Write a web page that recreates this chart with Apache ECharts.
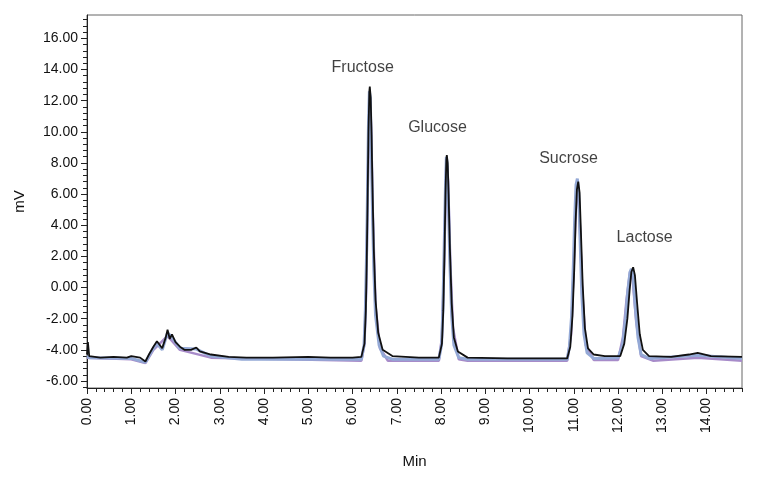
<!DOCTYPE html>
<html><head><meta charset="utf-8">
<script src="https://cdn.jsdelivr.net/npm/echarts@6/dist/echarts.min.js"></script>
<style>html,body{margin:0;background:#fff}#c{width:768px;height:479px}</style>
</head><body><div id="c"></div>
<script>
const blackTrace = [[0,-4.3],[0.02,-3.5],[0.05,-4.4],[0.3,-4.5],[0.6,-4.45],[0.9,-4.5],[1.0,-4.4],[1.1,-4.45],[1.2,-4.5],[1.32,-4.75],[1.4,-4.3],[1.5,-3.8],[1.58,-3.45],[1.7,-3.9],[1.78,-3.2],[1.82,-2.7],[1.87,-3.3],[1.92,-3.0],[2.0,-3.5],[2.1,-3.8],[2.2,-4.0],[2.35,-4.0],[2.47,-3.85],[2.55,-4.1],[2.8,-4.3],[3.2,-4.45],[3.6,-4.5],[4.2,-4.5],[5.0,-4.45],[5.5,-4.5],[6.0,-4.5],
 [6.2,-4.45],[6.27,-3.6],[6.3,-1.5],[6.32,1.5],[6.34,5.5],[6.36,10.0],[6.38,12.6],[6.39,12.9],[6.41,12.2],[6.43,9.8],[6.45,6.5],[6.48,2.5],[6.52,-0.8],[6.58,-2.9],[6.68,-4.0],[6.9,-4.4],[7.5,-4.5],
 [7.95,-4.5],[8.02,-3.6],[8.05,-1.5],[8.08,2.5],[8.1,6.0],[8.12,8.2],[8.13,8.5],[8.15,8.0],[8.17,6.0],[8.2,2.5],[8.24,-1.0],[8.29,-3.2],[8.38,-4.1],[8.6,-4.5],[9.5,-4.55],[10.5,-4.55],
 [10.85,-4.55],[10.92,-3.8],[10.97,-1.8],[11.01,1.2],[11.04,4.2],[11.07,6.3],[11.1,6.8],[11.13,6.1],[11.16,3.6],[11.2,0.2],[11.25,-2.6],[11.32,-3.9],[11.45,-4.3],[11.7,-4.4],
 [12.05,-4.4],[12.14,-3.6],[12.21,-2.0],[12.26,-0.2],[12.3,1.0],[12.34,1.3],[12.38,0.8],[12.43,-1.0],[12.49,-3.0],[12.56,-4.0],[12.7,-4.4],[13.2,-4.45],[13.6,-4.3],[13.8,-4.2],[14.1,-4.4],[14.8,-4.45]];
const blueTrace = [[0,-4.4],[0.05,-4.5],[1.0,-4.55],[1.32,-4.8],[1.5,-3.9],[1.58,-3.6],[1.7,-4.0],[1.82,-2.9],[1.92,-3.2],[2.1,-3.9],[2.47,-3.95],[2.8,-4.4],[3.5,-4.6],
 [6.2,-4.6],[6.26,-3.7],[6.29,-1.4],[6.32,2.5],[6.34,6.5],[6.36,10.5],[6.38,12.6],[6.4,12.2],[6.42,9.5],[6.45,5.0],[6.48,1.2],[6.52,-1.8],[6.6,-3.7],[6.7,-4.4],[6.9,-4.6],
 [7.95,-4.6],[8.01,-3.7],[8.04,-1.5],[8.07,2.5],[8.1,6.5],[8.12,8.4],[8.14,7.8],[8.17,5.0],[8.2,1.5],[8.24,-1.8],[8.29,-3.7],[8.4,-4.5],[8.6,-4.6],
 [10.85,-4.6],[10.9,-3.8],[10.95,-1.8],[10.99,1.5],[11.02,4.5],[11.05,6.6],[11.08,7.0],[11.11,6.0],[11.14,3.2],[11.18,-0.4],[11.23,-3.0],[11.3,-4.2],[11.45,-4.55],
 [12.0,-4.5],[12.1,-3.7],[12.17,-1.9],[12.22,-0.2],[12.27,1.0],[12.3,1.2],[12.34,0.7],[12.39,-1.3],[12.45,-3.2],[12.52,-4.3],[12.7,-4.55],[13.8,-4.35],[14.8,-4.55]];
const purpleTrace = [[0,-4.5],[1.0,-4.6],[1.32,-4.85],[1.5,-4.0],[1.82,-3.1],[2.1,-4.0],[2.8,-4.5],[6.2,-4.7],[6.27,-3.6],[6.31,0.0],[6.35,7.5],[6.39,12.2],[6.42,10.3],[6.46,4.5],[6.52,-1.2],[6.62,-3.9],[6.8,-4.7],
 [7.95,-4.7],[8.02,-3.2],[8.07,1.5],[8.12,8.2],[8.16,6.8],[8.21,1.5],[8.27,-2.6],[8.4,-4.6],[8.6,-4.7],
 [10.85,-4.7],[10.94,-3.0],[11.0,1.5],[11.07,6.7],[11.12,5.2],[11.19,-0.2],[11.27,-3.7],[11.45,-4.65],
 [12.0,-4.65],[12.11,-3.2],[12.19,-0.8],[12.27,1.0],[12.33,0.5],[12.41,-2.2],[12.52,-4.4],[12.8,-4.7],[13.8,-4.5],[14.8,-4.7]];
const peakNames = ['Fructose','Glucose','Sucrose','Lactose'];
const peakLabelPos = [[6.23,14.1],[7.92,10.25],[10.88,8.3],[12.6,3.2]];
const yTicks = [-6,-4,-2,0,2,4,6,8,10,12,14,16];
const xTicks = [0,1,2,3,4,5,6,7,8,9,10,11,12,13,14];
const xMinor = []; for (let i=0;i<=74;i++) xMinor.push(+(i*0.2).toFixed(1));
const yMinor = []; for (let i=-16;i<=43;i++) yMinor.push(+(i*0.4).toFixed(1));

const font = 'Liberation Sans, Arial, sans-serif';
const XMIN=0, XMAX=14.8, YMIN=-6.45, YMAX=17.5;
const ax = {color:'#222',width:1};
const chart = echarts.init(document.getElementById('c'));
chart.setOption({
  animation:false,
  grid:{left:87,right:26,top:15,bottom:91,show:true,borderColor:'#666',borderWidth:1},
  xAxis:[{type:'value',min:XMIN,max:XMAX,name:'Min',nameLocation:'middle',nameGap:66,
     nameTextStyle:{fontFamily:font,fontSize:15,color:'#111'},
     axisLine:{onZero:false,lineStyle:ax},splitLine:{show:false},
     axisTick:{customValues:xTicks,length:6,lineStyle:ax},
     axisLabel:{customValues:xTicks,rotate:90,fontFamily:font,fontSize:14,color:'#111',margin:10,formatter:v=>v.toFixed(2)}},
    {type:'value',min:XMIN,max:XMAX,position:'bottom',axisLine:{show:false,onZero:false},splitLine:{show:false},
     axisTick:{customValues:xMinor,length:4,lineStyle:ax},axisLabel:{show:false}}],
  yAxis:[{type:'value',min:YMIN,max:YMAX,name:'mV',nameLocation:'middle',nameGap:60,
     nameTextStyle:{fontFamily:font,fontSize:15,color:'#111'},
     axisLine:{show:true,onZero:false,lineStyle:ax},splitLine:{show:false},
     axisTick:{customValues:yTicks,length:6,lineStyle:ax},
     axisLabel:{customValues:yTicks,fontFamily:font,fontSize:14,color:'#111',margin:9,formatter:v=>v.toFixed(2)}},
    {type:'value',min:YMIN,max:YMAX,position:'left',axisLine:{show:false,onZero:false},splitLine:{show:false},
     axisTick:{customValues:yMinor,length:4,lineStyle:ax},axisLabel:{show:false}}],
  series:[
    {type:'line',data:purpleTrace,showSymbol:false,lineStyle:{color:'#a78bc9',width:2.5},z:1},
    {type:'line',data:blueTrace,showSymbol:false,lineStyle:{color:'#94a9d6',width:3},z:2},
    {type:'line',data:blackTrace,showSymbol:false,lineStyle:{color:'#111',width:1.8},z:3},
    {type:'scatter',symbolSize:0,data:peakLabelPos.map((p,i)=>({value:p,name:peakNames[i]})),
     label:{show:true,position:'inside',formatter:'{b}',fontFamily:font,fontSize:16,color:'#111'},z:4}
  ]
});
</script></body></html>
